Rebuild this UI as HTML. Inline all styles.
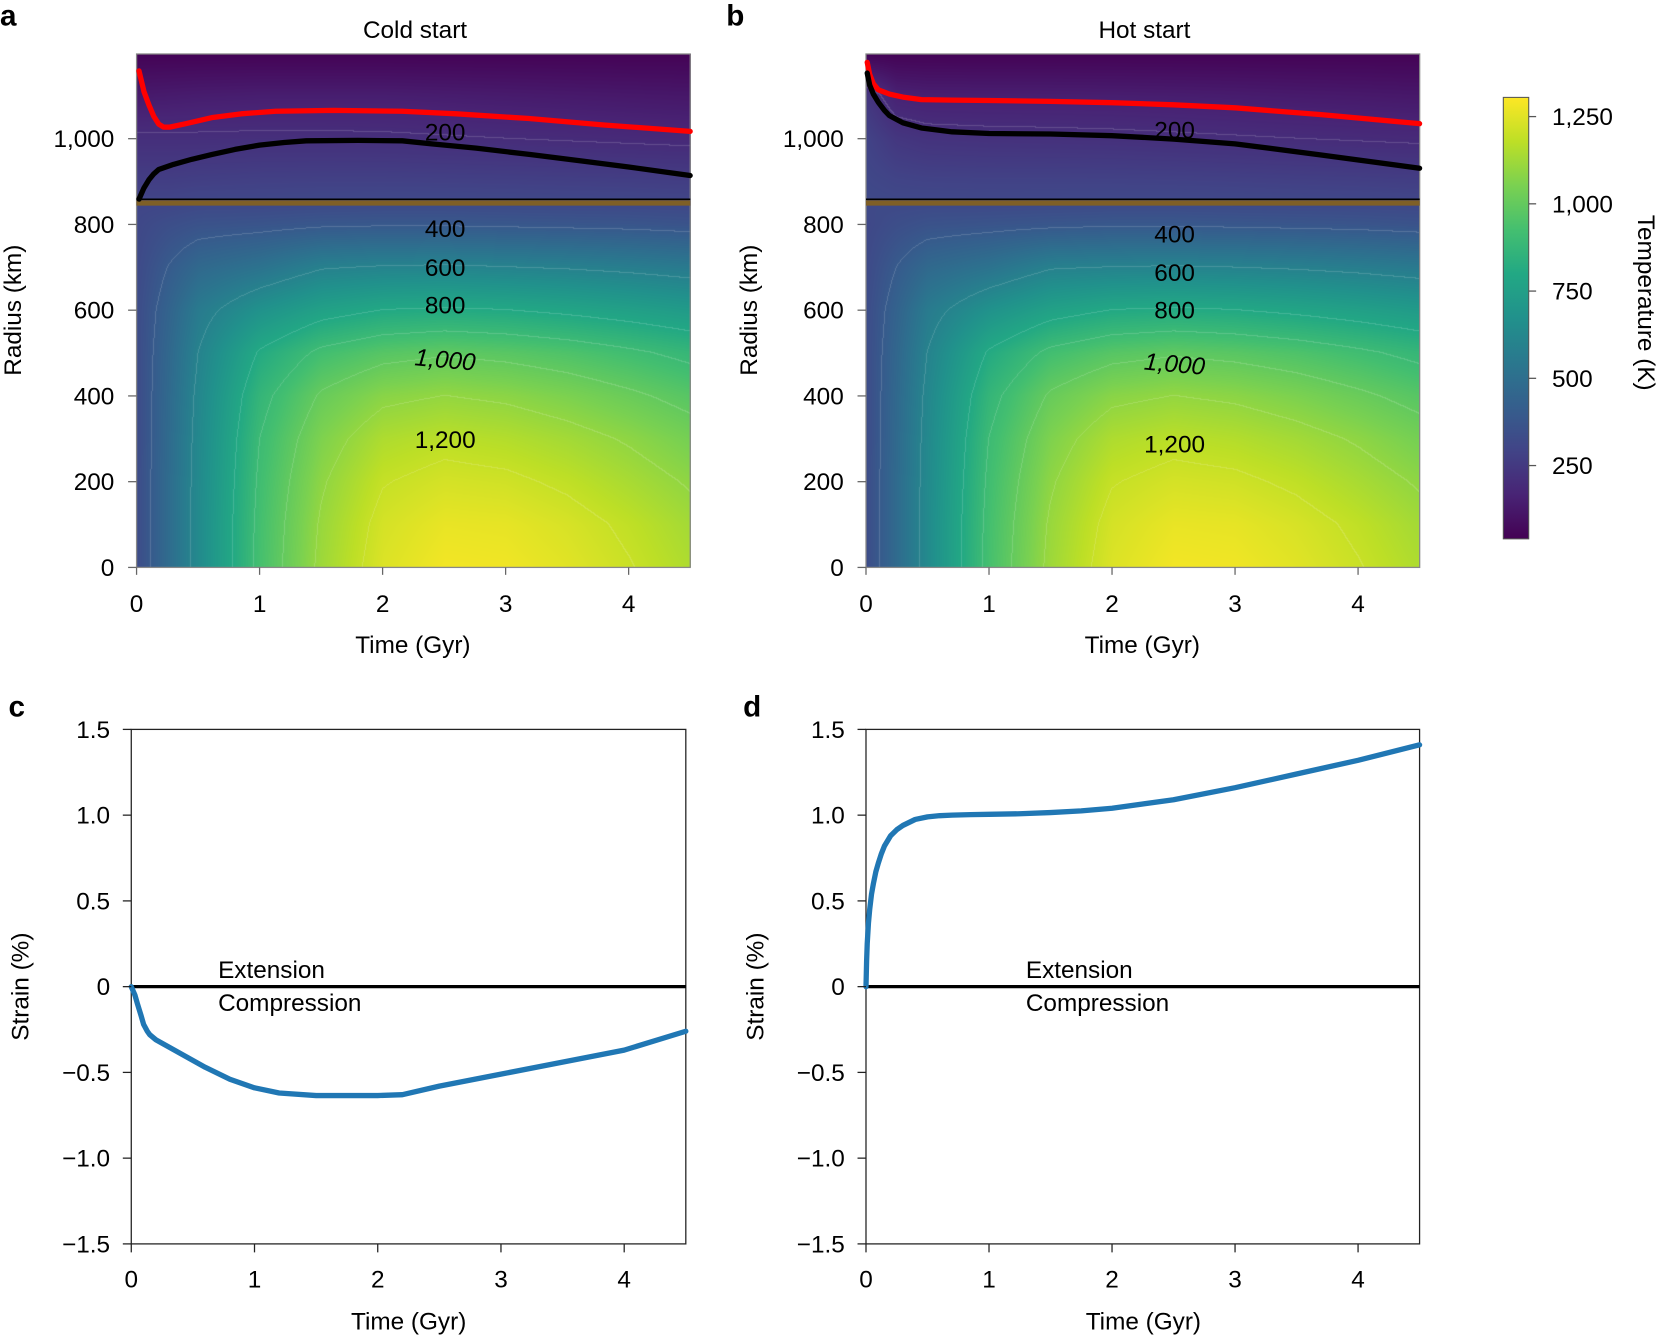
<!DOCTYPE html>
<html><head><meta charset="utf-8">
<style>
html,body{margin:0;padding:0;background:#fff;}
#wrap{position:relative;width:1660px;height:1336px;overflow:hidden;font-family:"Liberation Sans",sans-serif;}
canvas{position:absolute;}
svg{position:absolute;left:0;top:0;}
text{font-family:"Liberation Sans",sans-serif;fill:#000;}
</style></head>
<body>
<div id="wrap">
<canvas id="heatA"></canvas>
<canvas id="heatB"></canvas>
<svg id="svg" width="1660" height="1336" viewBox="0 0 1568 1262" preserveAspectRatio="none"></svg>
</div>
<script>
// ---- data ----
const gridTimes = [0, 0.25, 0.5, 1, 1.5, 2, 2.5, 3, 3.5, 4, 4.5];
const gridRadii = [0, 100, 200, 300, 400, 500, 600, 700, 800, 850, 900, 1000, 1100, 1200];
const tempsCold = [
 [330,330,330,330,330,330,330,320,310,300,270,210,130,45],
 [480,480,480,475,470,460,440,400,340,300,270,210,135,45],
 [640,640,635,630,620,600,560,470,360,310,275,210,140,45],
 [930,925,915,900,870,810,680,520,370,310,280,212,145,45],
 [1120,1110,1090,1060,1010,920,760,590,385,315,282,212,145,45],
 [1240,1225,1195,1150,1080,970,800,605,390,318,282,210,145,45],
 [1285,1265,1225,1175,1100,990,810,610,390,318,280,205,140,45],
 [1280,1260,1215,1160,1085,975,800,600,385,315,278,200,135,45],
 [1250,1230,1185,1130,1055,950,780,590,380,312,275,195,130,45],
 [1205,1185,1140,1090,1015,915,755,575,375,310,272,190,125,45],
 [1150,1130,1090,1040,970,875,725,555,365,305,268,185,120,45]
];
const tempsHot = [
 [330,330,330,330,330,330,330,320,310,320,310,290,240,45],
 [480,480,480,475,470,460,440,400,340,315,295,240,160,45],
 [640,640,635,630,620,600,560,470,360,315,290,225,150,45],
 [930,925,915,900,870,810,680,520,370,312,288,220,148,45],
 [1120,1110,1090,1060,1010,920,760,590,380,315,288,218,147,45],
 [1240,1225,1195,1150,1080,970,800,600,388,318,287,215,145,45],
 [1285,1265,1225,1175,1100,990,810,605,388,318,285,210,142,45],
 [1280,1260,1215,1160,1085,975,800,598,383,315,282,205,138,45],
 [1250,1230,1185,1130,1055,950,780,588,378,312,278,200,132,45],
 [1205,1185,1140,1090,1015,915,755,573,373,310,275,195,128,45],
 [1150,1130,1090,1040,970,875,725,553,363,305,270,190,122,45]
];
const contourLevels = [200, 400, 600, 800, 900, 1000, 1100, 1200];
const redColdT = [0.02,0.06,0.1,0.14,0.18,0.22,0.27,0.4,0.61,0.85,1.13,1.6,2.16,2.6,3.19,3.8,4.5];
const redColdR = [1158,1110,1079,1052,1034,1027,1027,1035,1049,1058,1064,1066,1064,1058,1047,1032,1017];
const blackColdT = [0.02,0.06,0.1,0.14,0.18,0.3,0.45,0.61,0.8,1.0,1.2,1.38,1.8,2.16,2.4,2.76,3.2,3.62,4.0,4.5];
const blackColdR = [859,885,904,918,928,940,952,963,975,985,991,995,996,995,988,978,963,948,934,914];
const redHotT = [0.01,0.03,0.06,0.1,0.19,0.3,0.45,0.7,1.0,1.5,2.0,2.5,3.0,3.7,4.5];
const redHotR = [1178,1150,1128,1114,1104,1097,1091,1090,1089,1087,1084,1079,1072,1056,1035];
const blackHotT = [0.01,0.03,0.06,0.1,0.15,0.19,0.3,0.45,0.7,1.0,1.5,2.0,2.5,3.0,3.7,4.5];
const blackHotR = [1153,1125,1104,1085,1066,1054,1037,1025,1016,1012,1011,1007,999,988,962,931];
const strainColdT = [0,0.03,0.05,0.08,0.1,0.13,0.15,0.2,0.3,0.4,0.6,0.8,1.0,1.2,1.5,2.0,2.2,2.5,3.0,3.5,4.0,4.5];
const strainColdV = [0,-0.05,-0.1,-0.17,-0.22,-0.26,-0.28,-0.31,-0.35,-0.39,-0.47,-0.54,-0.59,-0.62,-0.635,-0.635,-0.63,-0.58,-0.51,-0.44,-0.37,-0.26];
const strainHotT = [0,0.005,0.01,0.02,0.03,0.045,0.06,0.08,0.1,0.125,0.15,0.2,0.25,0.3,0.4,0.5,0.6,0.7,0.85,1.0,1.25,1.5,1.75,2.0,2.5,3.0,3.5,4.0,4.5];
const strainHotV = [0,0.15,0.25,0.37,0.45,0.54,0.6,0.67,0.72,0.775,0.82,0.88,0.915,0.94,0.975,0.99,0.997,1.0,1.003,1.005,1.008,1.015,1.025,1.04,1.09,1.16,1.24,1.32,1.41];
const timeTicks = [0,1,2,3,4];
const radiusTicks = [0,200,400,600,800,1000];
const radiusTickLabels = ["0","200","400","600","800","1,000"];
const strainTicks = [1.5,1.0,0.5,0,-0.5,-1.0,-1.5];
const strainTickLabels = ["1.5","1.0","0.5","0","\u22120.5","\u22121.0","\u22121.5"];
const cbTicks = [250,500,750,1000,1250];
const cbTickLabels = ["250","500","750","1,000","1,250"];
const contourLabelsA = [["200",200,2.5,1015],["400",400,2.5,790],["600",600,2.5,700],["800",800,2.5,612],["1,000",1000,2.5,485],["1,200",1200,2.5,298]];
const contourLabelsB = [["200",200,2.5,1020],["400",400,2.5,777],["600",600,2.5,688],["800",800,2.5,600],["1,000",1000,2.5,475],["1,200",1200,2.5,288]];

// ---- scales (in 1568x1262 viewBox units) ----
const S = 1660/1568;
const xA = t => 129 + t*116.2;
const xB = t => 818 + t*116.2;
const yR = r => 536 - r*0.405;
const xC = t => 124 + t*116.4;
const xD = t => 818 + t*116.2;
const yS = v => 932 - v*162;
const TMIN = 40, TMAX = 1305;
const yCB = T => 509 - (T-TMIN)/(TMAX-TMIN)*(509-92);
const FS = 23;

const vir = [[68,1,84],[72,36,117],[65,68,135],[53,95,141],[42,120,142],[33,145,140],[34,168,132],[68,191,112],[122,209,81],[189,223,38],[253,231,37]];
function viridis(f){f=Math.max(0,Math.min(1,f));const p=f*10,i=Math.min(9,Math.floor(p)),u=p-i;const a=vir[i],b=vir[i+1];return [a[0]+(b[0]-a[0])*u,a[1]+(b[1]-a[1])*u,a[2]+(b[2]-a[2])*u];}
function locate(arr,v){let i=0;while(i<arr.length-2&&v>arr[i+1])i++;let u=(v-arr[i])/(arr[i+1]-arr[i]);return [i,Math.max(0,Math.min(1,u))];}
function interpT(grid,t,r){const [i,u]=locate(gridTimes,t),[j,w]=locate(gridRadii,r);
 const a=grid[i][j],b=grid[i+1][j],c=grid[i][j+1],d=grid[i+1][j+1];
 return (a*(1-u)+b*u)*(1-w)+(c*(1-u)+d*u)*w;}

function drawHeat(id,grid,x0){
 const cv=document.getElementById(id);
 const left=x0*S, top=51*S, W=Math.round(523*S), H=Math.round(485*S);
 cv.style.left=left+'px';cv.style.top=top+'px';cv.width=W;cv.height=H;
 const ctx=cv.getContext('2d');const img=ctx.createImageData(W,H);
 const rTop=(536-51)/0.405;
 const F=new Float32Array(W*H);
 for(let j=0;j<H;j++){const r=rTop*(1-(j+0.5)/H);
  for(let i=0;i<W;i++){F[j*W+i]=interpT(grid,(i+0.5)/W*4.5,r);}}
 for(let j=0;j<H;j++){for(let i=0;i<W;i++){const T=F[j*W+i];
   let c=viridis((T-TMIN)/(TMAX-TMIN));
   // contour lines: pixel where a level is crossed between neighbours
   const Tr=i<W-1?F[j*W+i+1]:T, Td=j<H-1?F[(j+1)*W+i]:T;
   let on=false;
   for(const L of contourLevels){if((T-L)*(Tr-L)<=0&&T!==Tr||(T-L)*(Td-L)<=0&&T!==Td){on=true;break;}}
   if(on){const m=0.16;c=[c[0]+(255-c[0])*m,c[1]+(255-c[1])*m,c[2]+(255-c[2])*m];}
   const k=(j*W+i)*4;img.data[k]=c[0];img.data[k+1]=c[1];img.data[k+2]=c[2];img.data[k+3]=255;}}
 ctx.putImageData(img,0,0);
}
drawHeat('heatA',tempsCold,129);
drawHeat('heatB',tempsHot,818);

const svg=document.getElementById('svg');const NS='http://www.w3.org/2000/svg';
function el(tag,attrs,parent){const e=document.createElementNS(NS,tag);for(const k in attrs)e.setAttribute(k,attrs[k]);(parent||svg).appendChild(e);return e;}
function txt(s,x,y,size,anchor,parent,extra){const e=el('text',Object.assign({x:x,y:y,'font-size':size,'text-anchor':anchor||'middle'},extra||{}),parent);e.textContent=s;return e;}
function poly(xs,ys,fx,fy){return xs.map((v,i)=>fx(v).toFixed(2)+','+fy(ys[i]).toFixed(2)).join(' ');}

const defs=el('defs',{});
const lg=el('linearGradient',{id:'vg',x1:0,y1:1,x2:0,y2:0},defs);
vir.forEach((c,i)=>{el('stop',{offset:(i*10)+'%','stop-color':'rgb('+c.join(',')+')'},lg);});

function heatPanel(name,x,xs,grid,redT,redR,blkT,blkR,labels,title,letter,lx){
 const g=el('g',{});
 
 
 const frame=el('rect',{x:x,y:51,width:523,height:485,fill:'none',stroke:'#888','stroke-width':1.2},g);
 
 const mb=el('line',{x1:x,x2:x+523,y1:yR(850)-3.5,y2:yR(850)-3.5,stroke:'#000','stroke-width':1.5},g);
 
 const br=el('line',{x1:x,x2:x+523,y1:yR(850),y2:yR(850),stroke:'#7f5f27','stroke-width':5},g);
 
 const rl=el('polyline',{points:poly(redT,redR,xs,yR),fill:'none',stroke:'#ff0000','stroke-width':5,'stroke-linejoin':'round','stroke-linecap':'round'},g);
 
 const bl=el('polyline',{points:poly(blkT,blkR,xs,yR),fill:'none',stroke:'#000','stroke-width':5,'stroke-linejoin':'round','stroke-linecap':'round'},g);
 
 labels.forEach(l=>{const c=txt(l[0],xs(l[2])+1,yR(l[3])+8,FS,'middle',g,l[1]===1000?{'font-style':'italic',transform:'rotate(5 '+(xs(l[2])+1)+' '+yR(l[3])+')'}:{});
  });
 timeTicks.forEach(t=>{el('line',{x1:xs(t),x2:xs(t),y1:536,y2:543,stroke:'#666','stroke-width':1.2},g);
  const tl=txt(String(t),xs(t),578,FS,'middle',g);});
 radiusTicks.forEach((r,i)=>{el('line',{x1:x-8,x2:x,y1:yR(r),y2:yR(r),stroke:'#666','stroke-width':1.2},g);
  const yl=txt(radiusTickLabels[i],x-21,yR(r)+8,FS,'end',g);});
 const xt=txt('Time (Gyr)',x+261,617,FS,'middle',g);
 const yt=txt('Radius (km)',0,0,FS,'middle',g,{transform:'translate('+(lx)+',293) rotate(-90)'});
 const tt=txt(title,x+263,36,FS,'middle',g);
 const lt=txt(letter,x-129+ (letter==='b'?-3:0),24,28,'start',g,{'font-weight':'bold'});
}
heatPanel('panel-a-cold-start',129,xA,tempsCold,redColdT,redColdR,blackColdT,blackColdR,contourLabelsA,'Cold start','a',20);
heatPanel('panel-b-hot-start',818,xB,tempsHot,redHotT,redHotR,blackHotT,blackHotR,contourLabelsB,'Hot start','b',715);

const cb=el('g',{});


el('rect',{x:1420,y:92,width:24,height:417,fill:'url(#vg)',stroke:'#555','stroke-width':1},cb);
cbTicks.forEach((T,i)=>{el('line',{x1:1444,x2:1451,y1:yCB(T),y2:yCB(T),stroke:'#555','stroke-width':1.2},cb);
 const l=txt(cbTickLabels[i],1466,yCB(T)+8,FS,'start',cb);});
const cbt=txt('Temperature (K)',0,0,FS,'middle',cb,{transform:'translate(1547,286) rotate(90)'});


function strainPanel(name,x,xs,T,V,letter,lx,extX){
 const g=el('g',{});
 
 
 const fr=el('rect',{x:x,y:689,width:xs(4.5)-x,height:486,fill:'none',stroke:'#222','stroke-width':1.2},g);
 
 const z=el('line',{x1:x,x2:xs(4.5),y1:yS(0),y2:yS(0),stroke:'#000','stroke-width':3},g);
 
 const ex=txt('Extension',extX,924,FS,'start',g);
 const co=txt('Compression',extX,955,FS,'start',g);
 const ln=el('polyline',{points:poly(T,V,xs,yS),fill:'none',stroke:'#2077b4','stroke-width':5,'stroke-linejoin':'round','stroke-linecap':'round'},g);
 
 timeTicks.forEach(t=>{el('line',{x1:xs(t),x2:xs(t),y1:1175,y2:1183,stroke:'#222','stroke-width':1.2},g);
  const tl=txt(String(t),xs(t),1216,FS,'middle',g);});
 strainTicks.forEach((v,i)=>{el('line',{x1:x-8,x2:x,y1:yS(v),y2:yS(v),stroke:'#222','stroke-width':1.2},g);
  const yl=txt(strainTickLabels[i],x-20,yS(v)+8,FS,'end',g);});
 const xt=txt('Time (Gyr)',x+262,1256,FS,'middle',g);
 const yt=txt('Strain (%)',0,0,FS,'middle',g,{transform:'translate('+lx+',932) rotate(-90)'});
 const lt=txt(letter,x-116,677,28,'start',g,{'font-weight':'bold'});
}
strainPanel('panel-c-cold-strain',124,xC,strainColdT,strainColdV,'c',27,206);
strainPanel('panel-d-hot-strain',818,xD,strainHotT,strainHotV,'d',721,969);
</script>
</body></html>
